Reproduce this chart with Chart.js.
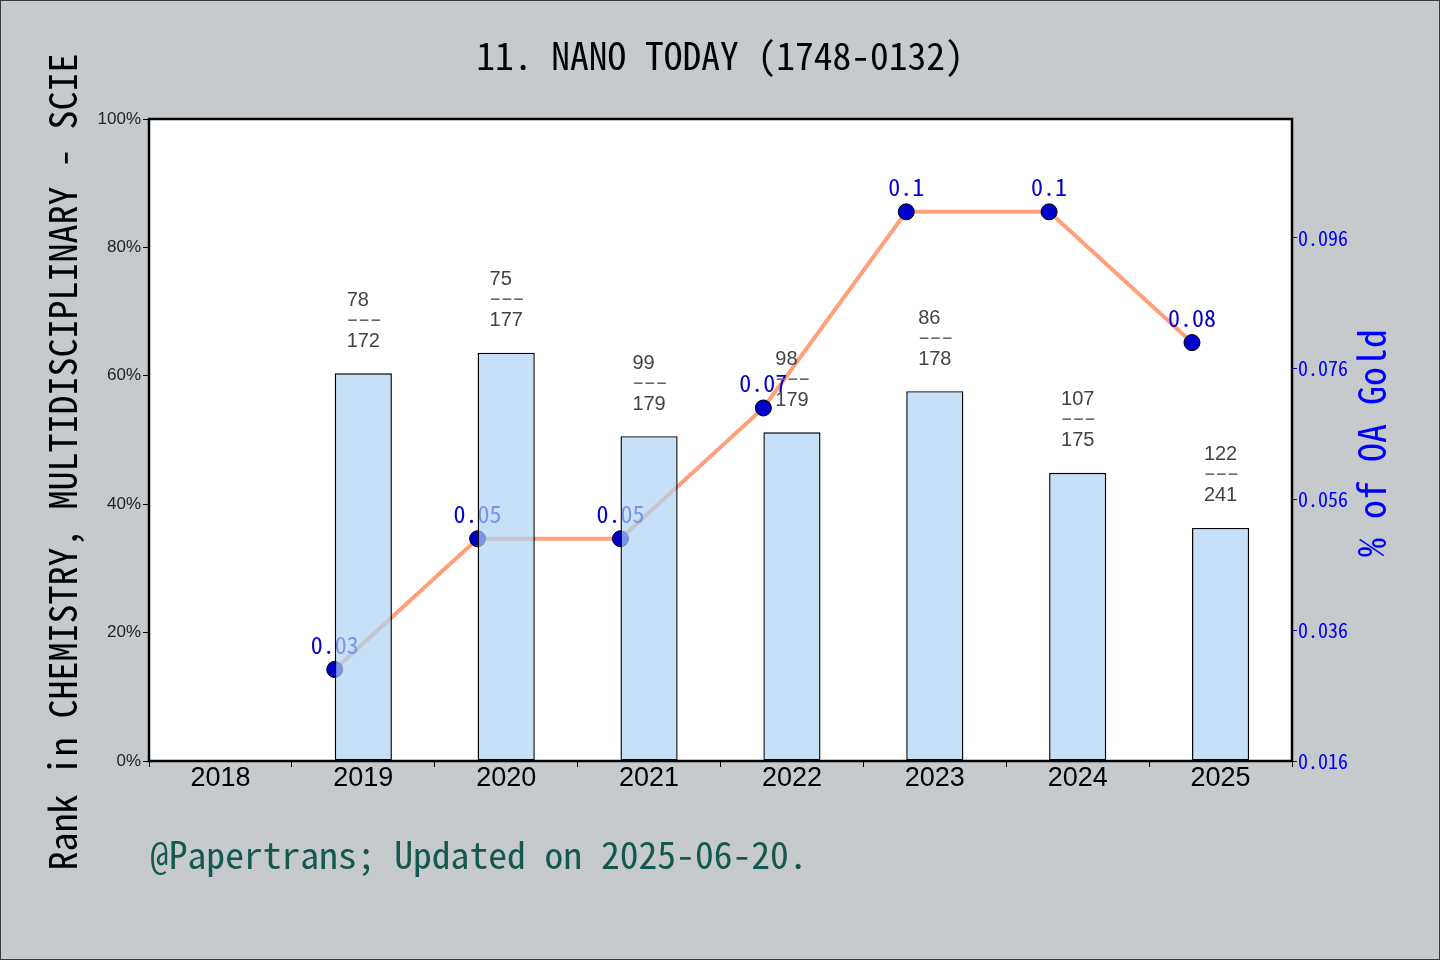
<!DOCTYPE html>
<html>
<head>
<meta charset="utf-8">
<script src="https://cdn.jsdelivr.net/npm/chart.js@4.4.1/dist/chart.umd.min.js"></script>
<style>
  html, body { margin: 0; padding: 0; background: #c6cacd; }
  canvas { display: block; }
</style>
</head>
<body>
<canvas id="rankChart" width="1440" height="960"></canvas>
<script>
// data
const years = ['2018', '2019', '2020', '2021', '2022', '2023', '2024', '2025'];
const rankPercent = [null, 60.4, 63.6, 50.6, 51.2, 57.6, 44.9, 36.3];
const rankNumber = [null, 78, 75, 99, 98, 86, 107, 122];
const rankTotal = [null, 172, 177, 179, 179, 178, 175, 241];
const oaGold = [null, 0.03, 0.05, 0.05, 0.07, 0.1, 0.1, 0.08];
const oaTicks = [0.016, 0.036, 0.056, 0.076, 0.096];

const titleText = '11. NANO TODAY (1748-0132)';
const leftTitle = 'Rank in CHEMISTRY, MULTIDISCIPLINARY - SCIE';
const rightTitle = '% of OA Gold';
const footerText = '@Papertrans; Updated on 2025-06-20.';

const MONO = '"Noto Sans Mono CJK SC", "Liberation Mono", monospace';
const SANS = '"Liberation Sans", Arial, sans-serif';

// line points sit on the left edge of each bar
const linePoints = [];
oaGold.forEach((v, i) => {
    if (v !== null) linePoints.push({ x: i - 0.2, y: v });
});

// background, plot area, labels and frame
const decorPlugin = {
    id: 'decor',
    beforeDraw(chart) {
        const ctx = chart.ctx;
        const a = chart.chartArea;
        ctx.save();
        ctx.fillStyle = '#c6cacd';
        ctx.fillRect(0, 0, chart.width, chart.height);
        ctx.fillStyle = '#ffffff';
        ctx.fillRect(a.left, a.top, a.right - a.left, a.bottom - a.top);
        ctx.restore();
    },
    afterDatasetDraw(chart, args) {
        // value labels of the line, drawn before the bars so the bars cover them
        if (args.index !== 1) return;
        const ctx = chart.ctx;
        ctx.save();
        ctx.font = '24px ' + MONO;
        ctx.fillStyle = '#0000d0';
        ctx.textAlign = 'center';
        ctx.textBaseline = 'middle';
        args.meta.data.forEach((pt, i) => {
            ctx.fillText(String(linePoints[i].y), pt.x, pt.y - 25);
        });
        ctx.restore();
    },
    afterDatasetsDraw(chart) {
        // rank / total above each bar
        const ctx = chart.ctx;
        const meta = chart.getDatasetMeta(0);
        ctx.save();
        ctx.font = '20px ' + SANS;
        ctx.textBaseline = 'middle';
        ctx.textAlign = 'left';
        meta.data.forEach((bar, i) => {
            if (rankNumber[i] === null) return;
            const top = bar.y;
            const w = Math.max(ctx.measureText(String(rankNumber[i])).width,
                               ctx.measureText(String(rankTotal[i])).width);
            const left = bar.x - w / 2;
            ctx.fillStyle = '#444444';
            ctx.fillText(String(rankNumber[i]), left, top - 73);
            ctx.save();
            ctx.fillStyle = '#666666';
            ctx.translate(left, top - 53);
            ctx.scale(1.75, 1);
            ctx.fillText('---', 0, 0);
            ctx.restore();
            ctx.fillText(String(rankTotal[i]), left, top - 32);
        });
        ctx.restore();
    },
    afterDraw(chart) {
        const ctx = chart.ctx;
        const a = chart.chartArea;
        ctx.save();
        // plot frame
        ctx.strokeStyle = '#000000';
        ctx.lineWidth = 2.5;
        ctx.strokeRect(a.left, a.top, a.right - a.left, a.bottom - a.top);
        // outer border
        ctx.strokeStyle = '#3a3a3a';
        ctx.lineWidth = 1;
        ctx.strokeRect(0.5, 0.5, chart.width - 1, chart.height - 1);

        ctx.textBaseline = 'middle';
        ctx.textAlign = 'center';
        ctx.fillStyle = '#000000';
        ctx.font = '37.5px ' + MONO;
        ctx.fillText(titleText, 720, 56);

        ctx.save();
        ctx.translate(63, 462);
        ctx.rotate(-Math.PI / 2);
        ctx.font = '38px ' + MONO;
        ctx.fillText(leftTitle, 0, 0);
        ctx.restore();

        ctx.save();
        ctx.translate(1372, 443);
        ctx.rotate(-Math.PI / 2);
        ctx.fillStyle = '#0000ff';
        ctx.font = '38px ' + MONO;
        ctx.fillText(rightTitle, 0, 0);
        ctx.restore();

        ctx.textAlign = 'left';
        ctx.fillStyle = '#14594f';
        ctx.font = '37.6px ' + MONO;
        ctx.fillText(footerText, 150, 855);
        ctx.restore();
    }
};

const ctx = document.getElementById('rankChart').getContext('2d');
const chart = new Chart(ctx, {
    type: 'bar',
    data: {
        labels: years,
        datasets: [{
            type: 'bar',
            label: 'Rank',
            data: rankPercent,
            xAxisID: 'x',
            yAxisID: 'y',
            backgroundColor: 'rgba(172, 211, 244, 0.7)',
            borderColor: '#000000',
            borderWidth: 1.4,
            borderSkipped: false,
            grouped: false,
            barPercentage: 0.4,
            categoryPercentage: 1.0,
            order: 1
        }, {
            type: 'line',
            label: 'OA Gold',
            data: linePoints,
            xAxisID: 'x2',
            yAxisID: 'y2',
            borderColor: '#ffa07a',
            borderWidth: 4,
            pointRadius: 8,
            pointBackgroundColor: '#0000cd',
            pointBorderColor: '#000000',
            pointBorderWidth: 1,
            tension: 0,
            order: 2
        }]
    },
    options: {
        responsive: false,
        devicePixelRatio: 1,
        animation: false,
        layout: { padding: { top: 119, left: 0, right: 0, bottom: 0 } },
        plugins: {
            legend: { display: false },
            tooltip: { enabled: false }
        },
        scales: {
            x: {
                type: 'category',
                position: 'bottom',
                offset: true,
                grid: { offset: true, drawOnChartArea: false, color: '#000000', tickLength: 6, lineWidth: 1 },
                border: { display: false },
                ticks: { color: '#000000', font: { family: SANS, size: 27 }, padding: -5 },
                afterFit: (s) => { s.height = 199; }
            },
            x2: {
                type: 'linear',
                display: false,
                offset: false,
                grid: { offset: false },
                min: -0.5,
                max: 7.5
            },
            y: {
                type: 'linear',
                position: 'left',
                min: 0,
                max: 100,
                grid: { drawOnChartArea: false, color: '#000000', tickLength: 6 },
                border: { display: false },
                ticks: {
                    stepSize: 20,
                    color: '#222222',
                    font: { family: SANS, size: 17 },
                    padding: 2,
                    callback: (v) => v + '%'
                },
                afterFit: (s) => { s.width = 149; }
            },
            y2: {
                type: 'linear',
                position: 'right',
                min: 0.016,
                max: 0.1142,
                grid: { drawOnChartArea: false, color: '#0000ff', tickLength: 5 },
                border: { display: false },
                ticks: {
                    color: '#0000ff',
                    font: { family: MONO, size: 20 },
                    padding: 1,
                    callback: (v) => v.toFixed(3)
                },
                afterBuildTicks: (s) => { s.ticks = oaTicks.map(v => ({ value: v })); },
                afterFit: (s) => { s.width = 148; }
            }
        }
    },
    plugins: [decorPlugin]
});
</script>
</body>
</html>
